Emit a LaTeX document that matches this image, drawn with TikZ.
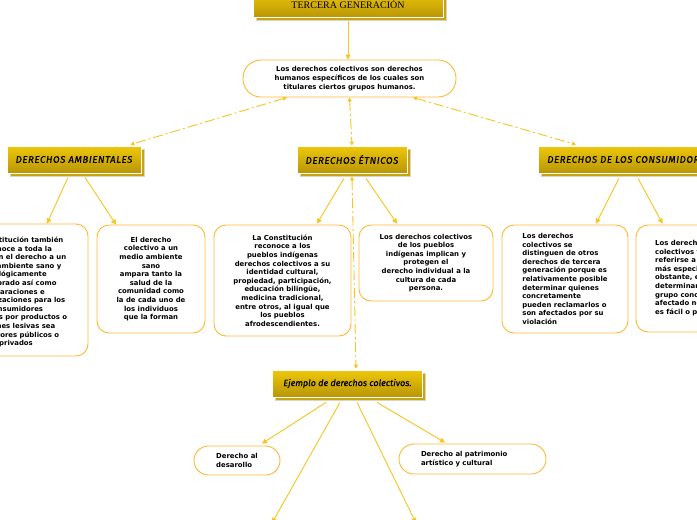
\documentclass[tikz,border=0pt]{standalone}
\usepackage{fontspec}
\setmainfont{DejaVu Sans}
\newfontfamily\handcaps{Fira Sans}[LetterSpace=7,FakeBold=0.8]
\newfontfamily\hand{Fira Sans}[FakeBold=0.6]
\newfontfamily\titlefont{Liberation Serif}
\usetikzlibrary{arrows.meta,shadows}
\definecolor{hdtop}{HTML}{EEC80A}
\definecolor{hdbot}{HTML}{B99505}
\definecolor{shdfill}{HTML}{C9A40C}
\definecolor{shdline}{HTML}{D8D4C8}
\definecolor{boxline}{HTML}{FFB833}
\definecolor{arrcol}{HTML}{F7C51E}
\tikzset{
  hdr/.style={shape=rectangle, draw=white, line width=0.8pt, top color=hdtop, bottom color=hdbot,
    minimum height=27pt, inner sep=0pt, text=black,
    general shadow={fill=shdfill, draw=shdline, line width=0.6pt, shadow xshift=3pt, shadow yshift=-3pt},
    font=\handcaps\itshape\fontsize{9.5}{11}\selectfont},
  box/.style={draw=boxline, line width=0.9pt, fill=white, rounded corners=12pt, inner sep=0pt,
    font=\bfseries\fontsize{6.9}{8.6}\selectfont, align=center},
  txt/.style={inner sep=0pt, font=\bfseries\fontsize{6.9}{8.6}\selectfont},
  arr/.style={draw=arrcol, line width=0.9pt, -{Triangle[length=5pt,width=5pt]}},
  rel/.style={draw=arrcol, line width=0.9pt, dash pattern=on 10pt off 3pt on 2pt off 3pt,
    {Triangle[length=4pt,width=4pt]}-{Triangle[length=4pt,width=4pt]}}
}
\begin{document}
\begin{tikzpicture}[x=1pt,y=-1pt]
\useasboundingbox (0,0) rectangle (697,520);
\clip (0,0) rectangle (697,520);
\fill[white] (0,0) rectangle (697,520);

% headers
\node[hdr, minimum width=190pt, font=\titlefont\fontsize{10}{12}\selectfont] (title) at (348,4) {TERCERA GENERACIÓN};
\node[box, rounded corners=18pt, minimum width=213pt, minimum height=37pt, font=\bfseries\fontsize{6.9}{9}\selectfont] (cen) at (349.5,78.5)
  {Los derechos colectivos son derechos\\humanos específicos de los cuales son\\titulares ciertos grupos humanos.};
\node[hdr, minimum width=134pt] (amb) at (74,159.5) {DERECHOS AMBIENTALES};
\node[hdr, minimum width=110pt] (etn) at (352,159.5) {DERECHOS ÉTNICOS};
\node[hdr, anchor=west, minimum width=175pt, text width=157pt, align=left] (con) at (538,159.5) {\mbox{DERECHOS DE LOS CONSUMIDORES}};
\node[hdr, minimum width=150pt, font=\hand\itshape\fontsize{9}{11}\selectfont] (ej) at (347.5,383.5) {Ejemplo de derechos colectivos.};

% content boxes
\node[box, minimum width=156pt, minimum height=132pt] (a1) at (10,290) {};
\node[txt, align=center] (a1t) at (16,292) {La Constitución también\\reconoce a toda la\\población el derecho a un\\medio ambiente sano y\\ecológicamente\\equilibrado así como\\reparaciones e\\indemnizaciones para los\\consumidores\\afectados por productos o\\acciones lesivas sea\\por actores públicos o\\privados};
\node[box, minimum width=108pt, minimum height=108pt] (a2) at (151,279) {El derecho\\colectivo a un\\medio ambiente\\sano\\ampara tanto la\\salud de la\\comunidad como\\la de cada uno de\\los individuos\\que la forman};
\node[box, minimum width=137pt, minimum height=111pt] (e1) at (282.5,280.5) {La Constitución\\reconoce a los\\pueblos indígenas\\derechos colectivos a su\\identidad cultural,\\propiedad, participación,\\educación bilingüe,\\medicina tradicional,\\entre otros, al igual que\\los pueblos\\afrodescendientes.};
\node[box, minimum width=134pt, minimum height=76pt] (e2) at (426,263) {Los derechos colectivos\\de los pueblos\\indígenas implican y\\protegen el\\derecho individual a la\\cultura de cada\\persona.};
\node[box, minimum width=126pt, minimum height=108pt, align=left] (c1) at (565,279) {Los derechos\\colectivos se\\distinguen de otros\\ derechos de tercera\\generación porque es\\relativamente posible\\determinar quienes\\concretamente\\pueden reclamarlos o\\son afectados por su\\violación};
\node[box, minimum width=126pt, minimum height=107pt] (c2) at (699,278.5) {};
\node[txt, align=left, anchor=north west] (c2t) at (655,240) {Los derechos difusos\\colectivos tienden a\\referirse a un grupo\\más especifico, no\\obstante, en ellos\\ determinar el\\grupo concreto\\afectado no siempre\\es fácil o posible};
\node[box, rounded corners=14.5pt, minimum width=86pt, minimum height=29pt, align=left] (des) at (237,460.5) {Derecho al\\desarollo};
\node[box, rounded corners=15pt, minimum width=147pt, minimum height=30pt, text width=103pt, align=left] (pat) at (472.5,459) {Derecho al patrimonio\\artístico y cultural};

% connectors
\draw[arr] ([shift={(0,3)}]title.south) -- (title.south |- cen.north);
\draw[rel] ([shift={(-62.5,0)}]cen.south) -- ([shift={(-11,-1)}]amb.north east);
\draw[rel] (cen.south) -- (etn.north);
\draw[rel] ([shift={(63.5,0)}]cen.south) -- ([shift={(38,-1)}]con.north west);
\draw[arr] ([shift={(-6,4)}]amb.south) -- ([shift={(37,0)}]a1.north);
\draw[arr] ([shift={(11,4)}]amb.south) -- ([shift={(-35,0)}]a2.north);
\draw[arr] ([shift={(-8,5)}]etn.south) -- ([shift={(34.5,-1)}]e1.north);
\draw[arr] ([shift={(14,5)}]etn.south) -- ([shift={(-29,-1)}]e2.north);
\draw[rel] ([shift={(0,3)}]etn.south) -- ([shift={(8.5,-1)}]ej.north);
\draw[arr] ([shift={(81,5)}]con.south west) -- ([shift={(31,-1)}]c1.north);
\draw[arr] ([shift={(100,5)}]con.south west) -- ([shift={(27,-1)}]c2.north west);
\coordinate (bl) at (272,523);
\coordinate (br) at (416,523);
\draw[arr] ([shift={(-21.5,5)}]ej.south) -- ([shift={(25,-2)}]des.north);
\draw[arr] ([shift={(-7.5,5)}]ej.south) -- (bl);
\draw[arr] ([shift={(9.5,5)}]ej.south) -- (br);
\draw[arr] ([shift={(29.5,5)}]ej.south) -- ([shift={(-27.5,-1)}]pat.north);
\end{tikzpicture}
\end{document}
